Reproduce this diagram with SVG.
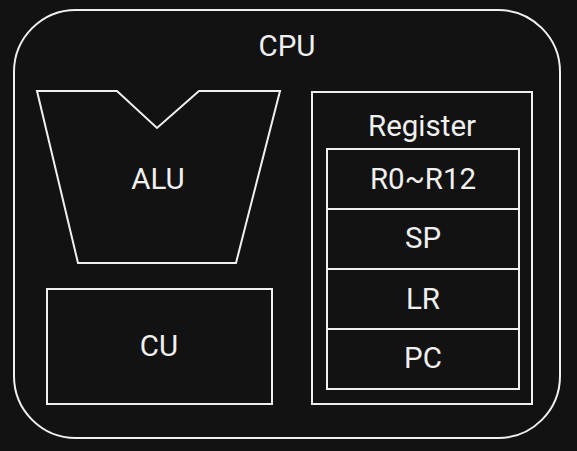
<svg xmlns="http://www.w3.org/2000/svg" width="577" height="451" viewBox="0 0 577 451">
<style>
.s{fill:none;stroke:#f0f0f0;stroke-width:2}
.t{fill:#f0f0f0;font-family:Roboto,"Liberation Sans",Arial,sans-serif;font-size:29.5px;text-anchor:middle}
</style>
<rect x="0" y="0" width="577" height="451" fill="#121212"/>
<g id="cpu">
<rect class="s" x="14" y="10" width="546" height="428" rx="62" ry="62"/>
<text class="t" x="287" y="56">CPU</text>
</g>
<g id="alu">
<polygon class="s" points="37,91 117,91 157,128 199,91 280,91 236,263 78,263"/>
<text class="t" x="158" y="189">ALU</text>
</g>
<g id="cu">
<rect class="s" x="47" y="289" width="225" height="115"/>
<text class="t" x="159" y="356">CU</text>
</g>
<g id="register">
<rect class="s" x="312" y="92" width="220" height="312"/>
<text class="t" x="422" y="136">Register</text>
</g>
<g id="r0r12">
<rect class="s" x="327" y="149" width="192" height="60"/>
<text class="t" x="423" y="189">R0~R12</text>
</g>
<g id="sp">
<rect class="s" x="327" y="209" width="192" height="60"/>
<text class="t" x="423" y="248">SP</text>
</g>
<g id="lr">
<rect class="s" x="327" y="269" width="192" height="60"/>
<text class="t" x="423" y="309">LR</text>
</g>
<g id="pc">
<rect class="s" x="327" y="329" width="192" height="60"/>
<text class="t" x="423" y="368">PC</text>
</g>
<g id="connectors"/>
</svg>
